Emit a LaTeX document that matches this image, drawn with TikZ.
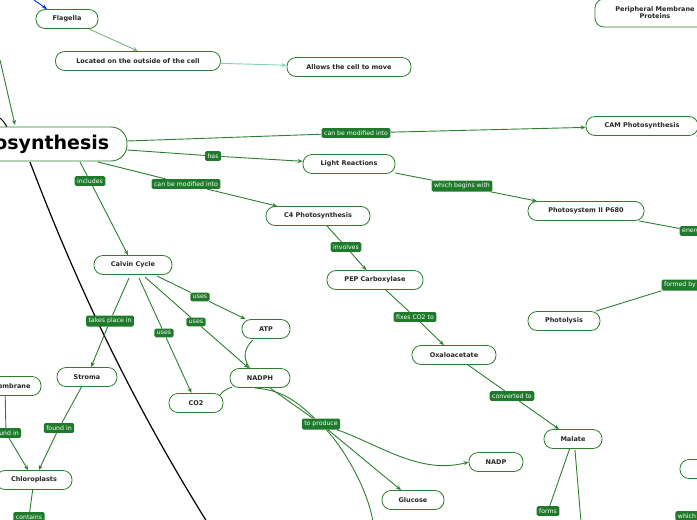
\documentclass[tikz,border=0pt]{standalone}
\usepackage{fontspec}
\setmainfont{DejaVu Sans}
\usetikzlibrary{arrows.meta}
\definecolor{gr}{HTML}{2B7F2F}
\definecolor{lg}{HTML}{1F7A2B}
\begin{document}
\begin{tikzpicture}[x=1pt,y=-1pt,
  nd/.style={draw=gr,line width=0.8pt,fill=white,rounded corners=9pt,minimum height=19pt,inner sep=2pt,font=\fontsize{6.5}{7}\selectfont\bfseries,text=black!85},
  lb/.style={fill=lg,text=white,rounded corners=1.5pt,inner sep=2.5pt,font=\fontsize{6.2}{7}\selectfont},
  cn/.style={draw=gr,line width=0.9pt},
  ar/.style={cn,-{Stealth[length=5pt,width=4pt]}}]
\useasboundingbox (0,0) rectangle (697,520);
% black curves
\draw[line width=1.2pt] (30,162) .. controls (90,320) and (150,430) .. (207,522);
\draw[line width=1pt] (0,118) .. controls (5,122) and (8,128) .. (10,136);
% nodes
\node[nd,minimum width=62pt] (fl) at (67,19) {Flagella};
\node[nd,minimum width=165pt] (loc) at (138,61) {Located on the outside of the cell};
\node[nd,minimum width=124pt] (mov) at (349,67) {Allows the cell to move};
\node[nd,minimum width=120pt,minimum height=28pt,align=center] (pmp) at (655,13) {Peripheral Membrane\\Proteins};
\node[nd,minimum width=112pt] (cam) at (642,126) {CAM Photosynthesis};
\node[nd,minimum width=92pt] (lr) at (349,164) {Light Reactions};
\node[nd,minimum width=116pt] (ps) at (586,211) {Photosystem II P680};
\node[nd,minimum width=104pt] (c4) at (318,216) {C4 Photosynthesis};
\node[nd,minimum width=96pt] (pep) at (375,280) {PEP Carboxylase};
\node[nd,minimum width=78pt] (cc) at (133,265) {Calvin Cycle};
\node[nd,minimum width=48pt] (atp) at (266,329) {ATP};
\node[nd,minimum width=60pt] (nadph) at (260,378) {NADPH};
\node[nd,minimum width=54pt] (co2) at (196,403) {CO2};
\node[nd,minimum width=60pt] (str) at (87,377) {Stroma};
\node[nd,minimum width=72pt] (mem) at (5,386) {\hspace*{12pt}Membrane};
\node[nd,minimum width=76pt] (chl) at (34,480) {Chloroplasts};
\node[nd,minimum width=84pt] (oxa) at (454,355) {Oxaloacetate};
\node[nd,minimum width=58pt] (mal) at (573,439) {Malate};
\node[nd,minimum width=54pt] (nadp) at (496,462) {NADP};
\node[nd,minimum width=62pt] (glu) at (413,500) {Glucose};
\node[nd,minimum width=72pt] (pho) at (564,321) {Photolysis};
\node[nd,minimum width=40pt] (rt) at (700,469) {};
\node[draw=gr,line width=0.9pt,fill=white,rounded corners=16pt,minimum width=200pt,minimum height=34pt,font=\fontsize{19}{20}\selectfont\bfseries] (ph) at (27,144) {Photosynthesis};
% labels
\node[lb] (l1) at (356,133) {can be modified into};
\node[lb] (l2) at (213,156) {has};
\node[lb] (l3) at (90,181) {includes};
\node[lb] (l4) at (186,184) {can be modified into};
\node[lb] (l5) at (462,186) {which begins with};
\node[lb] (l6) at (346,247) {involves};
\node[lb] (l7) at (415,317) {fixes CO2 to};
\node[lb] (u1) at (200,297) {uses};
\node[lb] (u2) at (196,322) {uses};
\node[lb] (u3) at (164,333) {uses};
\node[lb] (tp) at (110,321) {takes place in};
\node[lb] (f1) at (59,428) {found in};
\node[lb] (f2) at (6,433) {found in};
\node[lb] (tpr) at (321,424) {to produce};
\node[lb] (cv) at (512,396) {converted to};
\node[lb] (fo) at (548,511) {forms};
\node[lb] (fb) at (680,285) {formed by};
\node[lb] (en) at (693,231) {energy};
\node[lb] (co) at (29,517) {contains};
\node[lb] (wh) at (687,516) {which};
% connectors
\coordinate (t1) at (0,60);
\draw[ar] (t1) -- (15,125);
\coordinate (t2) at (34,0);
\coordinate (t3) at (47,9);
\draw[draw=blue!80!cyan,line width=0.9pt,-{Stealth[length=5pt,width=4pt]}] (t2) -- (t3);
\draw[draw=gr!60,line width=0.9pt,-{Stealth[length=5pt,width=4pt]}] (fl) -- (loc.north);
\draw[draw=cyan!40!green!50,line width=0.9pt,-{Stealth[length=5pt,width=4pt]}] (loc) -- (mov);
\draw[cn] (ph.east) ++(0,-3) -- (l1); \draw[ar] (l1) -- (cam);
\draw[cn] (ph.east) ++(0,6) -- (l2); \draw[ar] (l2) -- (lr);
\draw[cn] (80,162) -- (l3); \draw[ar] (l3) -- (cc);
\draw[cn] (98,162) -- (l4); \draw[ar] (l4) -- (c4);
\draw[cn] (lr) -- (l5); \draw[ar] (l5) -- (ps);
\draw[cn] (c4) -- (l6); \draw[ar] (l6) -- (pep);
\draw[cn] (pep) -- (l7); \draw[ar] (l7) -- (oxa);
\draw[cn] (oxa) -- (cv); \draw[ar] (cv) -- (mal);
\draw[cn] (157,276) -- (u1); \draw[ar] (u1) -- (atp);
\draw[cn] (145,277) -- (u2); \draw[ar] (u2) -- (nadph);
\draw[cn] (139,278) -- (u3); \draw[ar] (u3) -- (co2);
\draw[cn] (129,278) -- (tp); \draw[ar] (tp) -- (str);
\draw[cn] (str) -- (f1); \draw[ar] (f1) -- (chl);
\draw[cn] (mem) -- (f2); \draw[ar] (f2) -- (chl);
\draw[cn] (chl) -- (co);
\draw[cn] (253,340) .. controls (240,352) and (246,362) .. (250,369);
\draw[cn] (232,387) .. controls (226,389) and (222,392) .. (220,395);
\draw[cn] (270,388) -- (tpr);
\draw[cn] (255,388) .. controls (285,390) and (300,405) .. (tpr);
\draw[ar] (tpr) .. controls (380,445) and (420,475) .. (nadp.west);
\draw[ar] (tpr) -- (glu);
\coordinate (b1) at (373,522);
\draw[cn] (tpr) .. controls (345,450) and (368,490) .. (b1);
\draw[cn] (mal) -- (fo);
\coordinate (b2) at (581,522);
\draw[cn] (575,450) -- (b2);
\draw[cn] (pho) -- (fb);
\draw[cn] (ps) -- (en);
\coordinate (r1) at (697,136);
\draw[cn] (cam) -- (r1);
\end{tikzpicture}
\end{document}
